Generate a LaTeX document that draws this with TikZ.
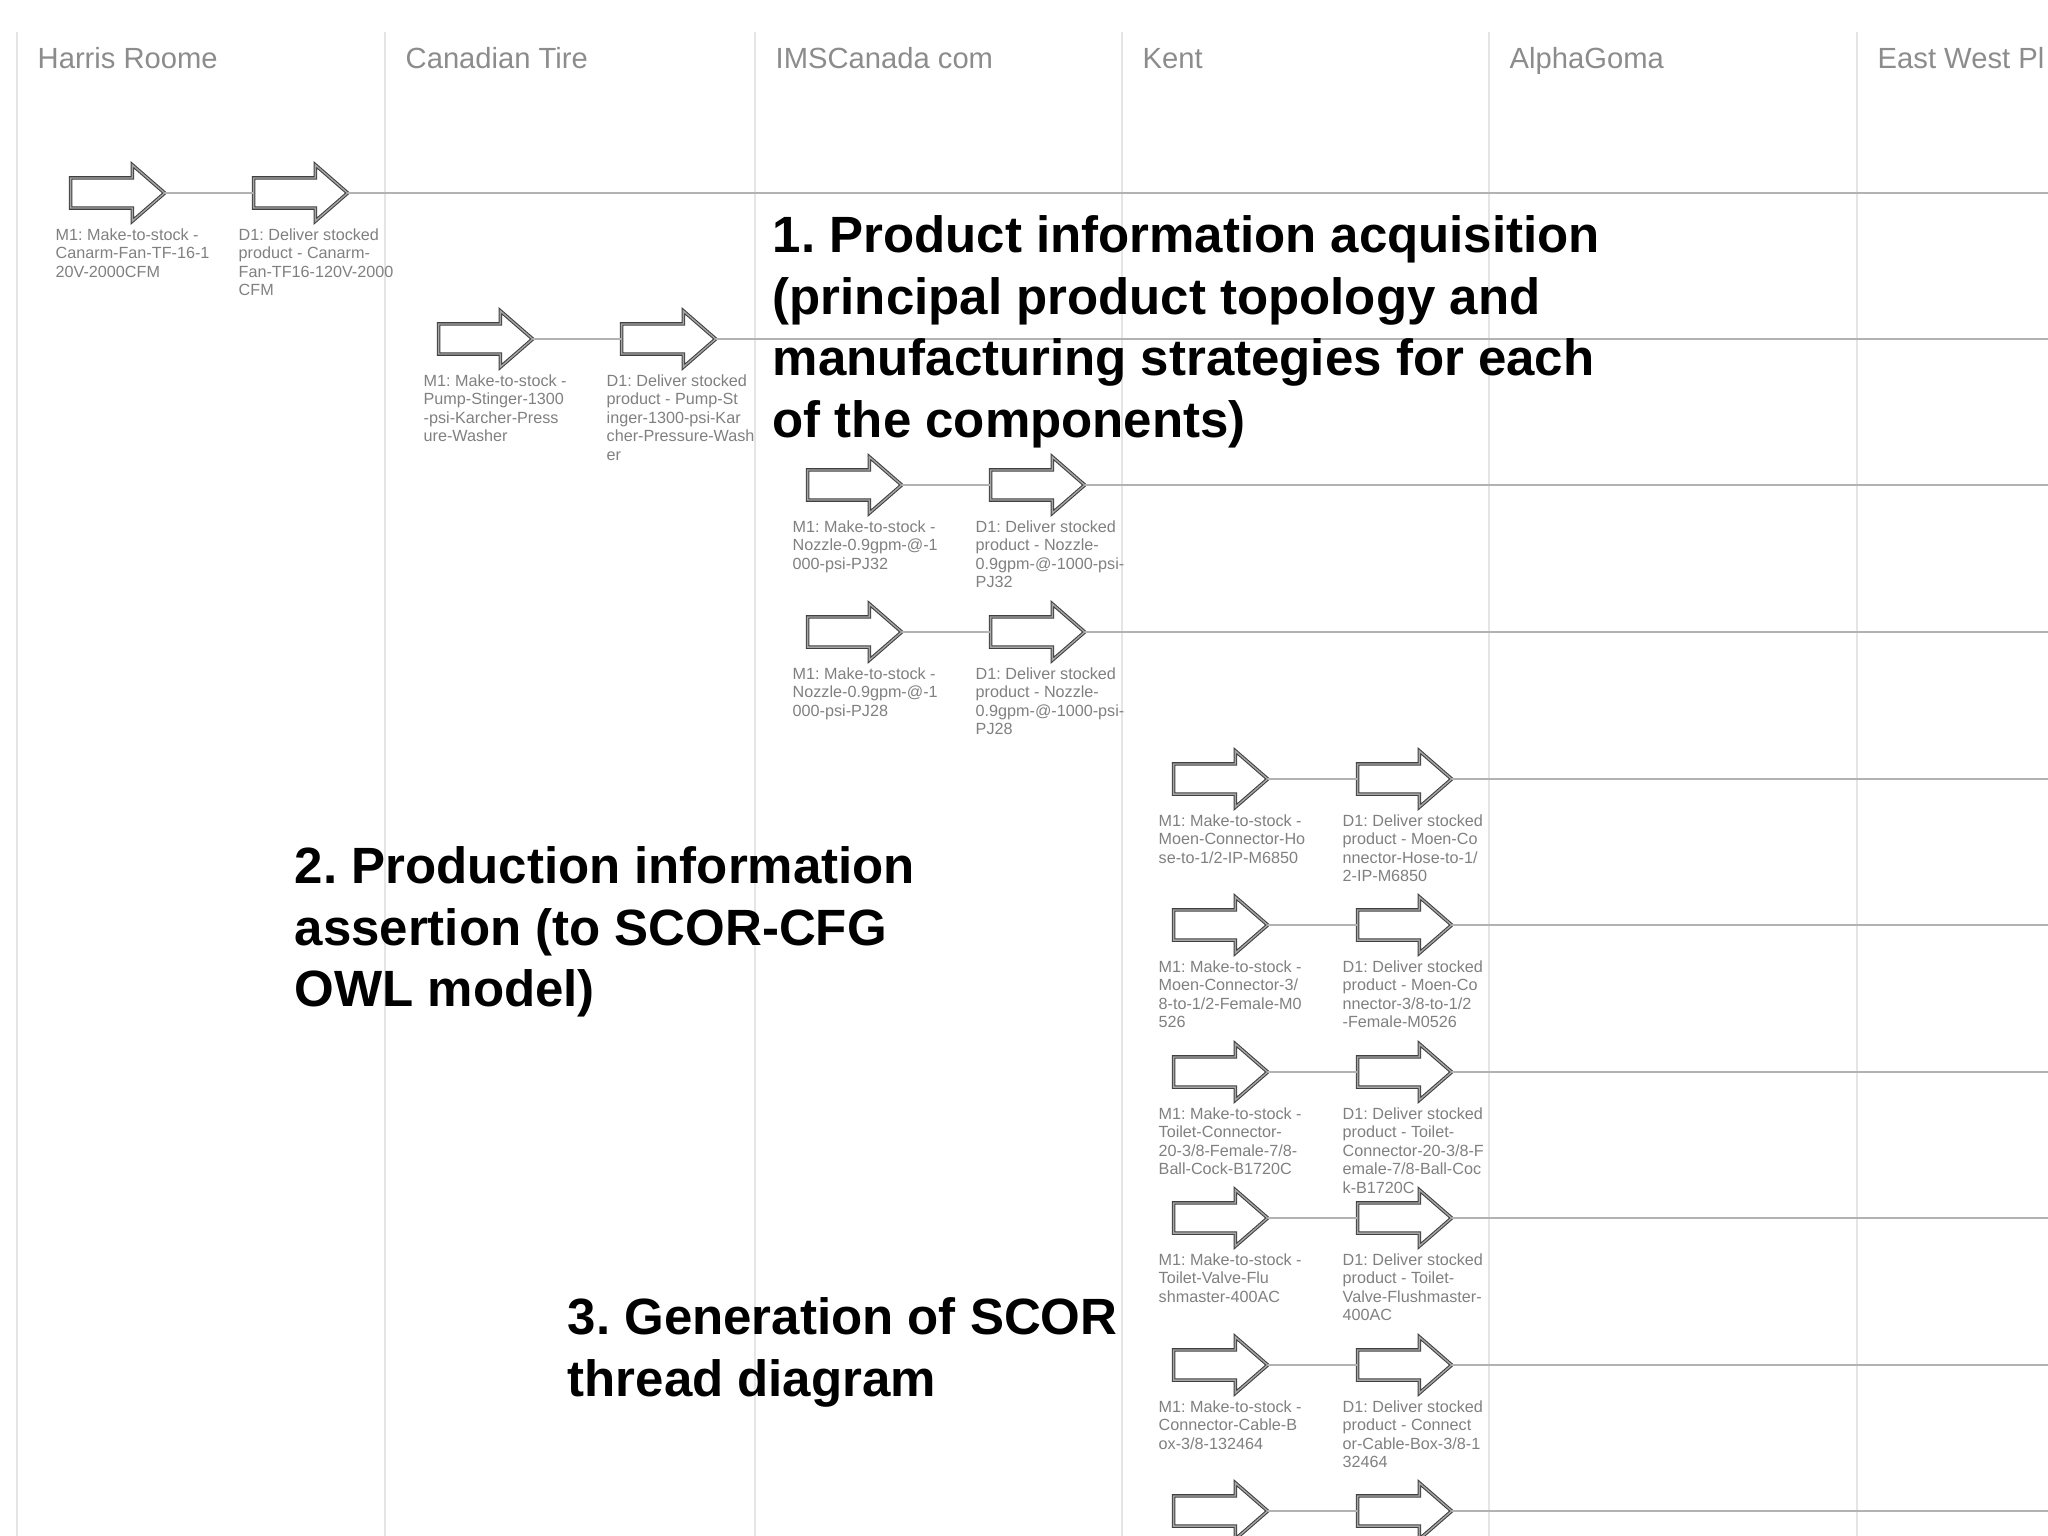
\documentclass[tikz,border=0pt]{standalone}
\usepackage{fontspec}
\setmainfont{Liberation Sans}
\frenchspacing
\usetikzlibrary{shapes.arrows}

\tikzset{
  scorarrow/.style={single arrow, draw=black!75, double=black!35, double distance=0.4pt,
    line width=0.3pt, minimum height=0.94cm, minimum width=0.55cm,
    single arrow head extend=0.13cm, single arrow tip angle=82,
    inner xsep=0pt, inner ysep=0.145cm, fill=white},
  procnote/.style={anchor=north west, align=left, inner sep=0pt, text=black!50,
    font=\fontsize{4.6}{5.25}\selectfont},
  lanename/.style={anchor=base west, inner sep=0pt, text=black!45, font=\fontsize{8.3}{10}\selectfont},
  swimlane/.style={draw=black!10, line width=0.4pt},
  thread/.style={draw=black!30, line width=0.6pt},
  callout/.style={anchor=north west, align=left, inner sep=0pt,
    font=\bfseries\fontsize{14.5}{17.5}\selectfont}
}

\begin{document}
\begin{tikzpicture}[x=0.01cm, y=-0.01cm]
  \useasboundingbox (0,0) rectangle (2048,1536);

  % swim lanes
  \draw[swimlane] (17,32) -- (17,1536);
  \draw[swimlane] (385,32) -- (385,1536);
  \draw[swimlane] (755,32) -- (755,1536);
  \draw[swimlane] (1122,32) -- (1122,1536);
  \draw[swimlane] (1489,32) -- (1489,1536);
  \draw[swimlane] (1857,32) -- (1857,1536);
  \node[lanename] (lane1) at (37,68) {Harris Roome};
  \node[lanename] (lane2) at (405,68) {Canadian Tire};
  \node[lanename] (lane3) at (775,68) {IMSCanada com};
  \node[lanename] (lane4) at (1142,68) {Kent};
  \node[lanename] (lane5) at (1509,68) {AlphaGoma};
  \node[lanename] (lane6) at (1877,68) {East West Pl};

  % thread ends
  \coordinate (e1) at (2048,193);
  \coordinate (e2) at (2048,339);
  \coordinate (e3) at (2048,485);
  \coordinate (e4) at (2048,632);
  \coordinate (e5) at (2048,779);
  \coordinate (e6) at (2048,925);
  \coordinate (e7) at (2048,1072);
  \coordinate (e8) at (2048,1218);
  \coordinate (e9) at (2048,1365);
  \coordinate (e10) at (2048,1511);

  % process steps
  \node[scorarrow] (m1) at (109,193) {};
  \node[scorarrow] (d1) at (292,193) {};
  \node[scorarrow] (m2) at (477,339) {};
  \node[scorarrow] (d2) at (660,339) {};
  \node[scorarrow] (m3) at (846,485) {};
  \node[scorarrow] (d3) at (1029,485) {};
  \node[scorarrow] (m4) at (846,632) {};
  \node[scorarrow] (d4) at (1029,632) {};
  \node[scorarrow] (m5) at (1212,779) {};
  \node[scorarrow] (d5) at (1396,779) {};
  \node[scorarrow] (m6) at (1212,925) {};
  \node[scorarrow] (d6) at (1396,925) {};
  \node[scorarrow] (m7) at (1212,1072) {};
  \node[scorarrow] (d7) at (1396,1072) {};
  \node[scorarrow] (m8) at (1212,1218) {};
  \node[scorarrow] (d8) at (1396,1218) {};
  \node[scorarrow] (m9) at (1212,1365) {};
  \node[scorarrow] (d9) at (1396,1365) {};
  \node[scorarrow] (m10) at (1212,1511) {};
  \node[scorarrow] (d10) at (1396,1511) {};

  \draw[thread] (m1.tip) -- (d1.tail);  \draw[thread] (d1.tip) -- (e1);
  \draw[thread] (m2.tip) -- (d2.tail);  \draw[thread] (d2.tip) -- (e2);
  \draw[thread] (m3.tip) -- (d3.tail);  \draw[thread] (d3.tip) -- (e3);
  \draw[thread] (m4.tip) -- (d4.tail);  \draw[thread] (d4.tip) -- (e4);
  \draw[thread] (m5.tip) -- (d5.tail);  \draw[thread] (d5.tip) -- (e5);
  \draw[thread] (m6.tip) -- (d6.tail);  \draw[thread] (d6.tip) -- (e6);
  \draw[thread] (m7.tip) -- (d7.tail);  \draw[thread] (d7.tip) -- (e7);
  \draw[thread] (m8.tip) -- (d8.tail);  \draw[thread] (d8.tip) -- (e8);
  \draw[thread] (m9.tip) -- (d9.tail);  \draw[thread] (d9.tip) -- (e9);
  \draw[thread] (m10.tip) -- (d10.tail);  \draw[thread] (d10.tip) -- (e10);

  % step labels
  \node[procnote] (m1t) at (55,228) {M1: Make-to-stock -\\Canarm-Fan-TF-16-1\\20V-2000CFM};
  \node[procnote] (d1t) at (238,228) {D1: Deliver stocked\\product - Canarm-\\Fan-TF16-120V-2000\\CFM};
  \node[procnote] (m2t) at (423,374) {M1: Make-to-stock -\\Pump-Stinger-1300\\-psi-Karcher-Press\\ure-Washer};
  \node[procnote] (d2t) at (606,374) {D1: Deliver stocked\\product - Pump-St\\inger-1300-psi-Kar\\cher-Pressure-Wash\\er};
  \node[procnote] (m3t) at (792,520) {M1: Make-to-stock -\\Nozzle-0.9gpm-@-1\\000-psi-PJ32};
  \node[procnote] (d3t) at (975,520) {D1: Deliver stocked\\product - Nozzle-\\0.9gpm-@-1000-psi-\\PJ32};
  \node[procnote] (m4t) at (792,667) {M1: Make-to-stock -\\Nozzle-0.9gpm-@-1\\000-psi-PJ28};
  \node[procnote] (d4t) at (975,667) {D1: Deliver stocked\\product - Nozzle-\\0.9gpm-@-1000-psi-\\PJ28};
  \node[procnote] (m5t) at (1158,814) {M1: Make-to-stock -\\Moen-Connector-Ho\\se-to-1/2-IP-M6850};
  \node[procnote] (d5t) at (1342,814) {D1: Deliver stocked\\product - Moen-Co\\nnector-Hose-to-1/\\2-IP-M6850};
  \node[procnote] (m6t) at (1158,960) {M1: Make-to-stock -\\Moen-Connector-3/\\8-to-1/2-Female-M0\\526};
  \node[procnote] (d6t) at (1342,960) {D1: Deliver stocked\\product - Moen-Co\\nnector-3/8-to-1/2\\-Female-M0526};
  \node[procnote] (m7t) at (1158,1107) {M1: Make-to-stock -\\Toilet-Connector-\\20-3/8-Female-7/8-\\Ball-Cock-B1720C};
  \node[procnote] (d7t) at (1342,1107) {D1: Deliver stocked\\product - Toilet-\\Connector-20-3/8-F\\emale-7/8-Ball-Coc\\k-B1720C};
  \node[procnote] (m8t) at (1158,1253) {M1: Make-to-stock -\\Toilet-Valve-Flu\\shmaster-400AC};
  \node[procnote] (d8t) at (1342,1253) {D1: Deliver stocked\\product - Toilet-\\Valve-Flushmaster-\\400AC};
  \node[procnote] (m9t) at (1158,1400) {M1: Make-to-stock -\\Connector-Cable-B\\ox-3/8-132464};
  \node[procnote] (d9t) at (1342,1400) {D1: Deliver stocked\\product - Connect\\or-Cable-Box-3/8-1\\32464};

  % big captions
  \node[callout] (phase1) at (772,215) {1. Product information acquisition\\(principal product topology and\\manufacturing strategies for each\\of the components)};
  \node[callout] (phase2) at (294,846) {2. Production information\\assertion (to SCOR-CFG\\OWL model)};
  \node[callout] (phase3) at (567,1297) {3. Generation of SCOR\\thread diagram};
\end{tikzpicture}
\end{document}
